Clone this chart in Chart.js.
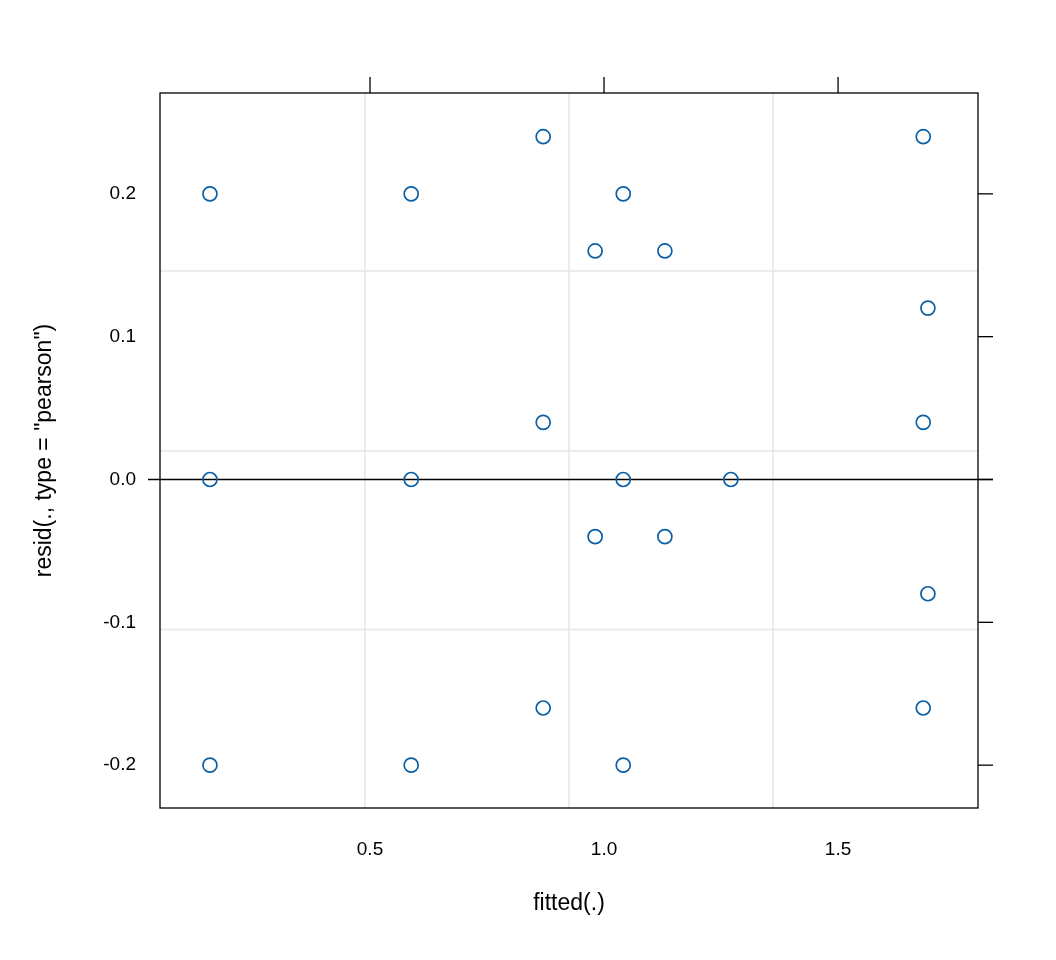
<!DOCTYPE html>
<html><head><meta charset="utf-8">
<script src="https://cdn.jsdelivr.net/npm/chart.js@4/dist/chart.umd.min.js"></script>
<style>html,body{margin:0;padding:0;background:#fff}#w{width:1056px;height:960px}</style>
</head><body><div id="w"><canvas id="c"></canvas></div>
<script>
const fittedX = [0.158,0.158,0.158,0.588,0.588,0.588,0.870,0.870,0.870,0.981,0.981,1.041,1.041,1.041,1.130,1.130,1.271,1.682,1.682,1.682,1.692,1.692];
const residY  = [0.20,0.00,-0.20,0.20,0.00,-0.20,0.24,0.04,-0.16,0.16,-0.04,0.20,0.00,-0.20,0.16,-0.04,0.00,0.24,0.04,-0.16,0.12,-0.08];
const xTicks = [0.5,1.0,1.5];
const yTicks = [-0.2,-0.1,0.0,0.1,0.2];
const gridX = [0.489,0.925,1.361];
const gridY = [-0.105,0.020,0.146];
const refY = 0;
const xTitle = 'fitted(.)';
const yTitle = 'resid(., type = "pearson")';

const deco = {
  id:'deco',
  beforeDatasetsDraw(ch){
    const {ctx,chartArea:a,scales:{x,y}} = ch;
    ctx.save();
    ctx.strokeStyle='#e6e6e6'; ctx.lineWidth=1.5;
    gridX.forEach(v=>{const p=x.getPixelForValue(v);ctx.beginPath();ctx.moveTo(p,a.top);ctx.lineTo(p,a.bottom);ctx.stroke();});
    gridY.forEach(v=>{const p=y.getPixelForValue(v);ctx.beginPath();ctx.moveTo(a.left,p);ctx.lineTo(a.right,p);ctx.stroke();});
    ctx.strokeStyle='#000'; ctx.lineWidth=1.3;
    const z=y.getPixelForValue(refY);
    ctx.beginPath();ctx.moveTo(a.left-12,z);ctx.lineTo(a.right+15,z);ctx.stroke();
    ctx.strokeRect(a.left,a.top,a.right-a.left,a.bottom-a.top);
    xTicks.forEach(v=>{const p=x.getPixelForValue(v);ctx.beginPath();ctx.moveTo(p,a.top);ctx.lineTo(p,a.top-16);ctx.stroke();});
    yTicks.forEach(v=>{const p=y.getPixelForValue(v);ctx.beginPath();ctx.moveTo(a.right,p);ctx.lineTo(a.right+15,p);ctx.stroke();});
    ctx.fillStyle='#000'; ctx.font='23px "Liberation Sans"'; ctx.textAlign='center'; ctx.textBaseline='middle';
    ctx.fillText(xTitle,(a.left+a.right)/2,a.bottom+96);
    ctx.translate(a.left-115,(a.top+a.bottom)/2); ctx.rotate(-Math.PI/2);
    ctx.fillText(yTitle,0,0);
    ctx.restore();
  }
};

new Chart(document.getElementById('c'),{
  type:'scatter',
  data:{datasets:[{data:fittedX.map((v,i)=>({x:v,y:residY[i]})),
    pointRadius:7,pointBorderColor:'#0a5fa5',pointBackgroundColor:'rgba(0,0,0,0)',pointBorderWidth:1.7,pointHoverRadius:7}]},
  options:{responsive:true,maintainAspectRatio:false,animation:false,
    layout:{padding:{left:0,top:93,right:78,bottom:0}},
    plugins:{legend:{display:false},tooltip:{enabled:false}},
    scales:{
      x:{type:'linear',min:0.0513,max:1.799,
        afterBuildTicks(s){s.ticks=xTicks.map(v=>({value:v}));},
        afterFit(s){s.height=152;},
        grid:{display:false,drawTicks:false},border:{display:false},
        ticks:{padding:30,color:'#000',font:{family:'Liberation Sans',size:19},callback:v=>v.toFixed(1)}},
      y:{type:'linear',min:-0.230,max:0.2706,
        afterBuildTicks(s){s.ticks=yTicks.map(v=>({value:v}));},
        afterFit(s){s.width=160;},
        grid:{display:false,drawTicks:false},border:{display:false},
        ticks:{padding:24,color:'#000',font:{family:'Liberation Sans',size:19},callback:v=>v.toFixed(1)}}
    }},
  plugins:[deco]
});
</script></body></html>
